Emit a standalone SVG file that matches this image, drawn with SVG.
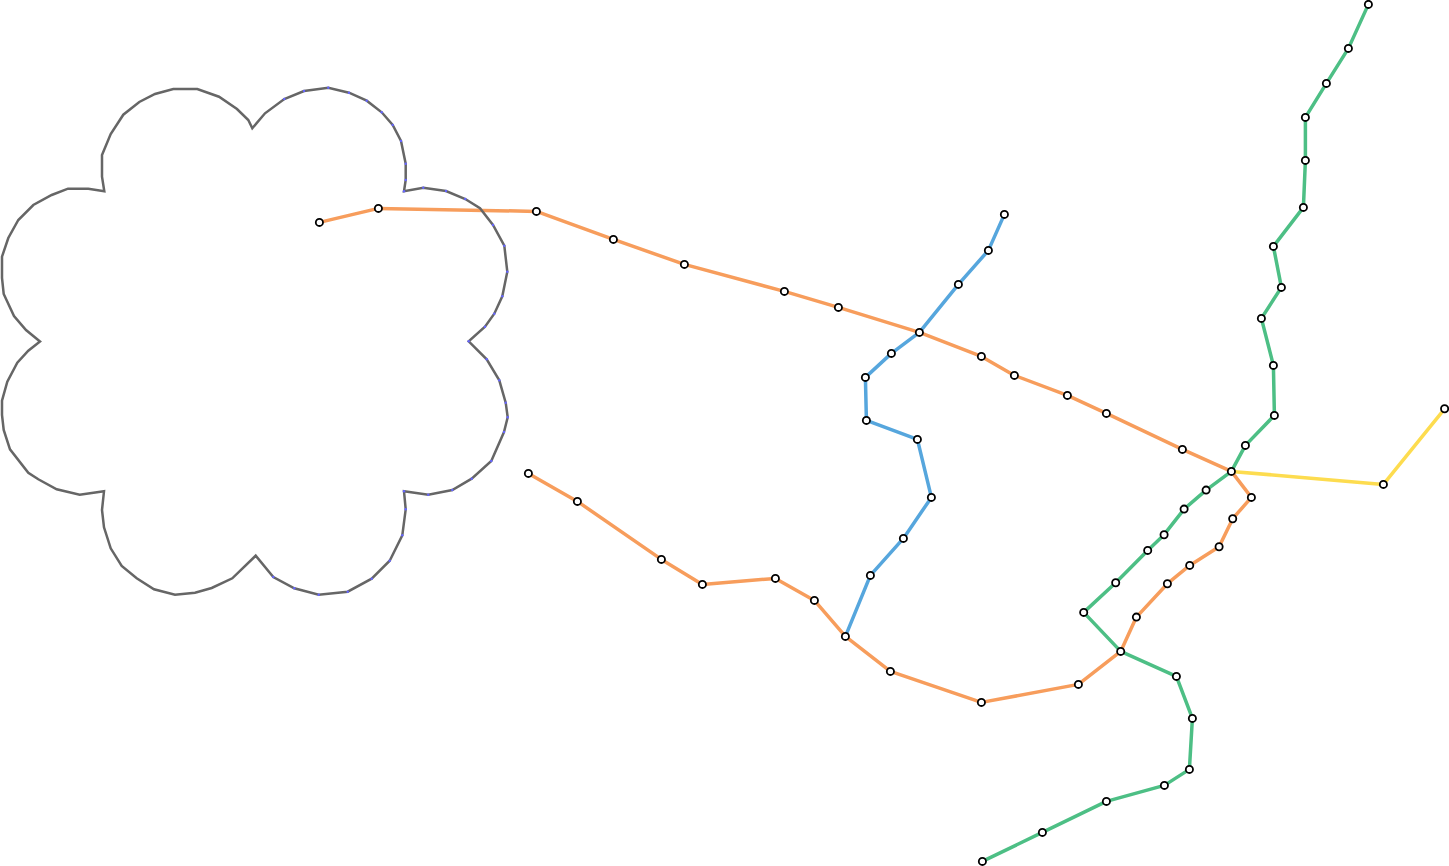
<svg xmlns="http://www.w3.org/2000/svg" width="1449" height="866" viewBox="0 0 1449 866">
<style>
.l{fill:none;stroke-width:3.5;stroke-linejoin:round;stroke-linecap:round}
.o{stroke:#f79d5c}.g{stroke:#4dbf85}.b{stroke:#56a6dd}.y{stroke:#fddc4f}
.s{fill:#fff;stroke:#000;stroke-width:1.8}
.v{fill:#6666ff}
#outline path{fill:none;stroke:#666;stroke-width:2.5;stroke-linejoin:miter}
</style>
<defs><circle id="st" r="3.6" class="s"/><circle id="vt" r="1.2" class="v"/></defs>
<rect width="1449" height="866" fill="#fff"/>
<g id="connectors" transform="translate(0.4 0.4)">
<polyline class="l y" points="1231,471 1383,484 1444.2,408.4"/>
<polyline class="l b" points="1004,214 988,250 958,284 919,332 891,353 865,377 866,420 917,439 931,497 903,538 870,575 845,636"/>
<polyline class="l o" points="319,222 378,208 536,211 613,239 684,264 784,291 838,307 919,332 981,356 1014,375 1067,395 1106,413 1182,449 1231,471 1251,497 1232.3,518.3 1218.7,546.3 1189.3,565 1167,583.3 1136,616.7 1120.3,651 1078,684 981,702 890,671 845,636 814,600 775,578 702,584 661,559 577,501 528,473"/>
<polyline class="l g" points="1368,4 1348,48 1326,83 1305,117 1305,160 1303,207 1273,246 1281,287 1261,318 1273,365 1274,415 1245,445 1231,471 1205.7,489.7 1183.7,508.7 1163.7,534.3 1147.3,550 1115.3,582.3 1083.3,612 1120.3,651 1176,676 1192,718 1189,769 1164,785 1106,801 1042,832 982,861"/>
</g>
<g id="outline">
<path d="M252.3 128.3L248.3 120L237 109L219 96.7L197.3 89L173.3 89L155 94L139.3 102L123.3 114.7L110.7 134L102 155L102 176.7L104.3 191.3L88.3 188.7L68 188.7L51.7 195L33.3 205L18.3 220L8.3 238L2 256.7L2 278L3.7 294L14 316L26 330L40 341.5L28.3 350.7L17.3 362.7L7.3 381.7L2 400.7L2 415L3.7 430L10 449.3L28.3 472.7L38.3 479.3L56.7 489.3L79.7 494.7L104 491.3L102 510L104 527.3L110.7 548.3L121.7 566L136.7 578.3L154 589.3L175 594.7L195 592.7L211.7 588L232.3 578.3L255.7 555.7L273.3 577L294.3 588.3L318.7 594.7L347.7 591.7L371.7 578.7L389.7 560.7L402.3 535.3L405.7 509.3L404 491.3L428.3 494.7L452.3 490L471.7 478.7L491.3 461L504 432L507.7 417.3L505.7 402.7L499.3 380.3L486.7 359.3L468.7 341.3L485 326.7L494.3 313.7L502.3 296.3L507.3 271.7L504.3 245.7L493 225L480 208.3L465.3 199L446 191L423.3 187.7L404 191.3L405.7 180L405.7 163.7L401 141L392.7 125L381.7 112.3L366.7 100.7L349 92.7L328.3 87.7L304 91L284.3 99L265 113.3Z"/>
</g>
<g id="vertices">
<use href="#vt" x="273.3" y="577"/><use href="#vt" x="294.3" y="588.3"/><use href="#vt" x="318.7" y="594.7"/><use href="#vt" x="347.7" y="591.7"/><use href="#vt" x="371.7" y="578.7"/><use href="#vt" x="389.7" y="560.7"/><use href="#vt" x="402.3" y="535.3"/><use href="#vt" x="405.7" y="509.3"/><use href="#vt" x="404" y="491.3"/><use href="#vt" x="428.3" y="494.7"/><use href="#vt" x="452.3" y="490"/><use href="#vt" x="471.7" y="478.7"/><use href="#vt" x="491.3" y="461"/><use href="#vt" x="504" y="432"/><use href="#vt" x="507.7" y="417.3"/><use href="#vt" x="505.7" y="402.7"/><use href="#vt" x="499.3" y="380.3"/><use href="#vt" x="486.7" y="359.3"/><use href="#vt" x="468.7" y="341.3"/><use href="#vt" x="485" y="326.7"/><use href="#vt" x="494.3" y="313.7"/><use href="#vt" x="502.3" y="296.3"/><use href="#vt" x="507.3" y="271.7"/><use href="#vt" x="504.3" y="245.7"/><use href="#vt" x="493" y="225"/><use href="#vt" x="465.3" y="199"/><use href="#vt" x="446" y="191"/><use href="#vt" x="423.3" y="187.7"/><use href="#vt" x="404" y="191.3"/><use href="#vt" x="405.7" y="180"/><use href="#vt" x="405.7" y="163.7"/><use href="#vt" x="401" y="141"/><use href="#vt" x="392.7" y="125"/><use href="#vt" x="381.7" y="112.3"/><use href="#vt" x="366.7" y="100.7"/><use href="#vt" x="349" y="92.7"/><use href="#vt" x="328.3" y="87.7"/><use href="#vt" x="304" y="91"/><use href="#vt" x="284.3" y="99"/>
</g>
<g id="stations" transform="translate(0.4 0.4)">
<use href="#st" x="319" y="222"/><use href="#st" x="378" y="208"/><use href="#st" x="536" y="211"/><use href="#st" x="613" y="239"/><use href="#st" x="684" y="264"/><use href="#st" x="784" y="291"/><use href="#st" x="838" y="307"/><use href="#st" x="919" y="332"/><use href="#st" x="981" y="356"/><use href="#st" x="1014" y="375"/><use href="#st" x="1067" y="395"/><use href="#st" x="1106" y="413"/><use href="#st" x="1182" y="449"/><use href="#st" x="1231" y="471"/><use href="#st" x="1251" y="497"/><use href="#st" x="1232.3" y="518.3"/><use href="#st" x="1218.7" y="546.3"/><use href="#st" x="1189.3" y="565"/><use href="#st" x="1167" y="583.3"/><use href="#st" x="1136" y="616.7"/><use href="#st" x="1120.3" y="651"/><use href="#st" x="1078" y="684"/><use href="#st" x="981" y="702"/><use href="#st" x="890" y="671"/><use href="#st" x="845" y="636"/><use href="#st" x="814" y="600"/><use href="#st" x="775" y="578"/><use href="#st" x="702" y="584"/><use href="#st" x="661" y="559"/><use href="#st" x="577" y="501"/><use href="#st" x="528" y="473"/>
<use href="#st" x="1368" y="4"/><use href="#st" x="1348" y="48"/><use href="#st" x="1326" y="83"/><use href="#st" x="1305" y="117"/><use href="#st" x="1305" y="160"/><use href="#st" x="1303" y="207"/><use href="#st" x="1273" y="246"/><use href="#st" x="1281" y="287"/><use href="#st" x="1261" y="318"/><use href="#st" x="1273" y="365"/><use href="#st" x="1274" y="415"/><use href="#st" x="1245" y="445"/><use href="#st" x="1205.7" y="489.7"/><use href="#st" x="1183.7" y="508.7"/><use href="#st" x="1163.7" y="534.3"/><use href="#st" x="1147.3" y="550"/><use href="#st" x="1115.3" y="582.3"/><use href="#st" x="1083.3" y="612"/><use href="#st" x="1176" y="676"/><use href="#st" x="1192" y="718"/><use href="#st" x="1189" y="769"/><use href="#st" x="1164" y="785"/><use href="#st" x="1106" y="801"/><use href="#st" x="1042" y="832"/><use href="#st" x="982" y="861"/>
<use href="#st" x="1004" y="214"/><use href="#st" x="988" y="250"/><use href="#st" x="958" y="284"/><use href="#st" x="891" y="353"/><use href="#st" x="865" y="377"/><use href="#st" x="866" y="420"/><use href="#st" x="917" y="439"/><use href="#st" x="931" y="497"/><use href="#st" x="903" y="538"/><use href="#st" x="870" y="575"/>
<use href="#st" x="1383" y="484"/><use href="#st" x="1444.2" y="408.4"/>
</g>
</svg>
